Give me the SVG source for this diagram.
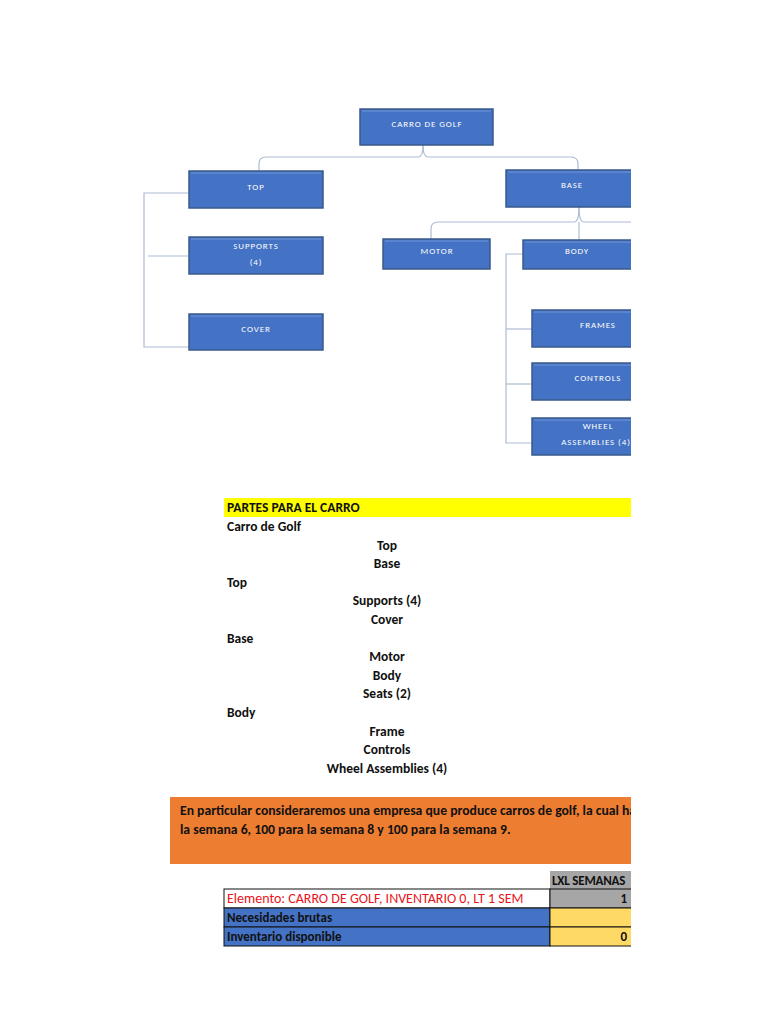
<svg xmlns="http://www.w3.org/2000/svg" width="768" height="1024" viewBox="0 0 768 1024">
<style>
.box{fill:#4472C4;stroke:#3A5A8C;stroke-width:1.5}
.hl{fill:none;stroke:#6F95D8;stroke-width:1}
.lbl{font-family:Carlito,Lato,"Liberation Sans",sans-serif;font-size:9px;letter-spacing:0.9px;fill:#FFFFFF;text-anchor:middle}
.con{fill:none;stroke:#AEBBD6;stroke-width:1.2}
.t{font-family:Carlito,Lato,"Liberation Sans",sans-serif;font-size:13.5px;font-weight:bold;fill:#111}
.c{text-anchor:middle}
.tb{font-family:Carlito,Lato,"Liberation Sans",sans-serif;font-size:13px;font-weight:bold}
.cell{stroke:#111;stroke-width:1}
</style>
<defs>
<clipPath id="clip"><rect x="0" y="0" width="631" height="1024"/></clipPath>
</defs>
<rect width="768" height="1024" fill="#FFFFFF"/>
<g clip-path="url(#clip)">
<g id="connectors">
<path class="con" d="M423 145 Q423 157 418 157 L266 157 Q259 157 259 164 L259 171"/>
<path class="con" d="M423 145 Q423 157 428 157 L571 157 Q578 157 578 164 L578 170"/>
<path class="con" d="M579 207 Q579 222 574 222 L438 222 Q431 222 431 229 L431 239"/>
<path class="con" d="M579 207 Q579 222 584 222 L640 222"/>
<path class="con" d="M579 222 L579 240"/>
<path class="con" d="M189 193 L144 193 L144 347 L189 347"/>
<path class="con" d="M148 256 L189 256"/>
<path class="con" d="M523 254 L506 254 L506 443 L532 443"/>
<path class="con" d="M506 329 L532 329"/>
<path class="con" d="M506 384 L532 384"/>
</g>
<g id="n-carro"><rect class="box" x="360" y="109" width="133" height="36"/><path class="hl" d="M362 111 H491"/><text class="lbl" x="427" y="127">CARRO DE GOLF</text></g>
<g id="n-top"><rect class="box" x="189" y="171" width="134" height="37"/><path class="hl" d="M191 173 H321"/><text class="lbl" x="256" y="190">TOP</text></g>
<g id="n-base"><rect class="box" x="506" y="170" width="134" height="37"/><path class="hl" d="M508 172 H640"/><text class="lbl" x="572" y="188">BASE</text></g>
<g id="n-supports"><rect class="box" x="189" y="237" width="134" height="37"/><path class="hl" d="M191 239 H321"/><text class="lbl" x="256" y="249">SUPPORTS</text><text class="lbl" x="256" y="265">(4)</text></g>
<g id="n-cover"><rect class="box" x="189" y="314" width="134" height="36"/><path class="hl" d="M191 316 H321"/><text class="lbl" x="256" y="332">COVER</text></g>
<g id="n-motor"><rect class="box" x="383" y="239" width="107" height="30"/><path class="hl" d="M385 241 H488"/><text class="lbl" x="437" y="254">MOTOR</text></g>
<g id="n-body"><rect class="box" x="523" y="240" width="117" height="29"/><path class="hl" d="M525 242 H640"/><text class="lbl" x="577" y="254">BODY</text></g>
<g id="n-frames"><rect class="box" x="532" y="310" width="108" height="37"/><path class="hl" d="M534 312 H640"/><text class="lbl" x="598" y="328">FRAMES</text></g>
<g id="n-controls"><rect class="box" x="532" y="363" width="108" height="37"/><path class="hl" d="M534 365 H640"/><text class="lbl" x="598" y="381">CONTROLS</text></g>
<g id="n-wheel"><rect class="box" x="532" y="418" width="108" height="37"/><path class="hl" d="M534 420 H640"/><text class="lbl" x="598" y="429">WHEEL</text><text class="lbl" x="596" y="445">ASSEMBLIES (4)</text></g>

<g id="parts">
<rect x="224" y="498" width="420" height="19" fill="#FFFF00"/>
<text class="t" x="227" y="512">PARTES PARA EL CARRO</text>
<text class="t" x="227" y="531">Carro de Golf</text>
<text class="t c" x="387" y="550">Top</text>
<text class="t c" x="387" y="568">Base</text>
<text class="t" x="227" y="587">Top</text>
<text class="t c" x="387" y="605">Supports (4)</text>
<text class="t c" x="387" y="624">Cover</text>
<text class="t" x="227" y="643">Base</text>
<text class="t c" x="387" y="661">Motor</text>
<text class="t c" x="387" y="680">Body</text>
<text class="t c" x="387" y="698">Seats (2)</text>
<text class="t" x="227" y="717">Body</text>
<text class="t c" x="387" y="736">Frame</text>
<text class="t c" x="387" y="754">Controls</text>
<text class="t c" x="387" y="773">Wheel Assemblies (4)</text>
</g>

<g id="note">
<rect x="170" y="797" width="470" height="67" fill="#ED7D31"/>
<text class="t" x="180" y="815" style="font-size:13.7px">En particular consideraremos una empresa que produce carros de golf, la cual ha</text>
<text class="t" x="180" y="834" style="font-size:13.7px">la semana 6, 100 para la semana 8 y 100 para la semana 9.</text>
</g>

<g id="table">
<rect x="550" y="871" width="90" height="18" fill="#A6A6A6"/>
<text class="tb" x="552" y="885" fill="#111" style="letter-spacing:-0.2px">LXL SEMANAS</text>
<rect class="cell" x="224" y="889" width="326" height="19" fill="#FFFFFF"/>
<rect class="cell" x="550" y="889" width="90" height="19" fill="#A6A6A6"/>
<rect class="cell" x="224" y="908" width="326" height="19" fill="#4472C4"/>
<rect class="cell" x="550" y="908" width="90" height="19" fill="#FFD966"/>
<rect class="cell" x="224" y="927" width="326" height="19" fill="#4472C4"/>
<rect class="cell" x="550" y="927" width="90" height="19" fill="#FFD966"/>
<text class="tb" x="227" y="903" fill="#E8141B" style="font-weight:normal;font-size:14px">Elemento: CARRO DE GOLF, INVENTARIO 0, LT 1 SEM</text>
<text class="tb" x="627" y="903" fill="#111" text-anchor="end">1</text>
<text class="tb" x="227" y="922" fill="#111">Necesidades brutas</text>
<text class="tb" x="227" y="941" fill="#111">Inventario disponible</text>
<text class="tb" x="627" y="941" fill="#111" text-anchor="end">0</text>
</g>
</g>
</svg>
